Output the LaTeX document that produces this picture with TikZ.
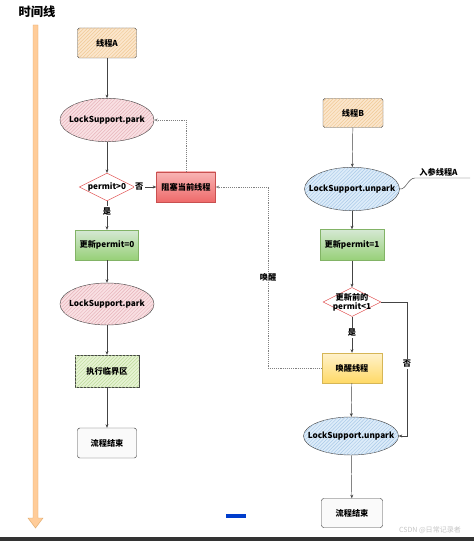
\documentclass[tikz,border=0pt]{standalone}
\usepackage{fontspec}
\setmainfont{Noto Sans CJK SC}
\usetikzlibrary{positioning,arrows.meta,shapes.geometric,patterns}

\definecolor{lineC}{HTML}{444444}
\definecolor{orangeF}{HTML}{FBE6CC}
\definecolor{orangeH}{HTML}{EFC894}
\definecolor{pinkF}{HTML}{F9E0E3}
\definecolor{pinkH}{HTML}{E6B3BA}
\definecolor{blueF}{HTML}{DDECF9}
\definecolor{blueH}{HTML}{A9C9E8}
\definecolor{greenF}{HTML}{E6F3D3}
\definecolor{greenH}{HTML}{BCDA98}
\definecolor{diaC}{HTML}{E04848}
\definecolor{barF}{HTML}{FFCC99}
\definecolor{barD}{HTML}{E0A868}
\definecolor{grT}{HTML}{D5E8D4}
\definecolor{grB}{HTML}{97D077}
\definecolor{grD}{HTML}{82B366}
\definecolor{ylT}{HTML}{FFF2CC}
\definecolor{ylB}{HTML}{FFD966}
\definecolor{ylD}{HTML}{D6B656}
\definecolor{rdT}{HTML}{F8B4B4}
\definecolor{rdB}{HTML}{EE6A6A}
\definecolor{rdD}{HTML}{C85050}

\begin{document}
\begin{tikzpicture}[x=0.03cm,y=-0.03cm,
  every node/.style={font=\bfseries\fontsize{7}{8}\selectfont},
  sketch/.style={draw=lineC,thin,postaction={pattern=north east lines,pattern color=#1}},
  thread/.style={sketch=orangeH,fill=orangeF,rounded corners=1.5pt,minimum width=1.77cm,minimum height=0.9cm},
  ellA/.style={ellipse,sketch=pinkH,fill=pinkF,minimum width=2.82cm,minimum height=1.3cm,inner sep=0},
  ellB/.style={ellipse,sketch=blueH,fill=blueF,minimum width=2.85cm,minimum height=1.3cm,inner sep=0},
  cond/.style={diamond,draw=diaC,thin,fill=white,inner sep=0,aspect=2},
  redbox/.style={draw=rdD,top color=rdT,bottom color=rdB,minimum width=1.77cm,minimum height=0.9cm},
  greenbox/.style={draw=grD,top color=grT,bottom color=grB,minimum width=1.8cm,minimum height=0.9cm},
  yellowbox/.style={draw=ylD,top color=ylT,bottom color=ylB,minimum width=1.8cm,minimum height=0.9cm},
  endbox/.style={draw=lineC,thin,fill=gray!4,rounded corners=2pt,minimum width=1.77cm,minimum height=0.9cm},
  arr/.style={draw=lineC,thin,-{Stealth[length=3pt,width=2.5pt]}},
  dots/.style={draw=gray,thin,dash pattern=on 0.8pt off 0.8pt,-{Stealth[length=3pt,width=2.5pt]}},
  lbl/.style={fill=white,inner sep=1pt}]

  \useasboundingbox (0,0) rectangle (474,541);
  \fill[white] (0,0) rectangle (474,541);

  % timeline
  \node[font=\bfseries\fontsize{10.5}{12}\selectfont] (title) at (37,12) {时间线};
  \filldraw[fill=barF,draw=barD,thin] (33,25) -- (38,25) -- (38,518) -- (43,518)
    -- (35.5,528) -- (28,518) -- (33,518) -- cycle;

  % thread A
  \node[thread] (tA) at (107,43) {线程A};
  \node[ellA,label=center:{LockSupport.park}] (parkA) at (107,120) {};
  \node[cond] (dA) at (107,187) {permit>0};
  \node[redbox] (block) at (186,187) {阻塞当前线程};
  \node[greenbox] (upd0) at (107,245) {更新permit=0};
  \node[ellA,minimum height=1.26cm,label=center:{LockSupport.park}] (parkA2) at (107,304) {};
  \node[sketch=greenH,fill=greenF,minimum width=1.92cm,minimum height=0.96cm] (crit) at (107,371) {执行临界区};
  \node[endbox] (endA) at (107,443) {流程结束};

  \draw[arr] (tA) -- (parkA);
  \draw[arr] (parkA) -- (dA);
  \draw[arr] (dA) -- node[lbl,pos=0.2]{否} (block);
  \draw[arr] (dA) -- node[lbl,pos=0.35]{是} (upd0);
  \draw[arr] (upd0) -- (parkA2);
  \draw[arr] (parkA2) -- (crit);
  \draw[arr] (crit) -- (endA);
  \draw[dots] (block.north) |- (parkA.east);

  % thread B
  \node[thread,minimum width=1.8cm,minimum height=0.87cm] (tB) at (353,113) {线程B};
  \node[ellB,label=center:{LockSupport.unpark}] (unpark) at (352,189) {};
  \node[greenbox,minimum width=1.92cm,minimum height=0.93cm] (upd1) at (352,245) {更新permit=1};
  \node[cond,align=center,inner sep=-2.2pt,font=\bfseries\fontsize{7}{7.5}\selectfont] (dB) at (352,302) {更新前的\\permit<1};
  \node[yellowbox] (wake) at (352,368) {唤醒线程};
  \node[ellB,minimum height=1.14cm,label=center:{LockSupport.unpark}] (unpark2) at (351,436) {};
  \node[endbox,minimum width=1.83cm,minimum height=0.87cm] (endB) at (352,513) {流程结束};

  \coordinate (nb) at (407,302);
  \coordinate (wk) at (268,277);
  \coordinate (ann) at (415,178);
  \coordinate (annE) at (470,178);
  \node[anchor=south west,inner sep=1pt] (annT) at (418,178) {入参线程A};

  \draw[arr] (tB) -- (unpark);
  \draw[arr] (unpark) -- (upd1);
  \draw[arr] (upd1) -- (dB);
  \draw[arr] (dB) -- node[lbl,pos=0.45]{是} (wake);
  \draw[arr] (wake) -- (unpark2);
  \draw[arr] (unpark2) -- (endB);
  \draw[arr] (dB.east) -- (nb) |- node[lbl,pos=0.23]{否} (unpark2.east);
  \draw[dots] (wake.west) -| (wk) |- (block.east);
  \node[lbl] (wkT) at (wk) {唤醒};
  \draw[lineC,thin] (unpark.east) .. controls (406,190) and (408,178) .. (ann) -- (annE);

  % screenshot leftovers
  \draw[blue!70!cyan!80!black,line width=3pt] (226,516) -- (246,516);
  \node[font=\fontsize{6}{7}\selectfont,text=gray!45] (mark) at (430,530) {CSDN @日常记录者};
  \fill[black!80] (0,537) rectangle (474,541);
\end{tikzpicture}
\end{document}
